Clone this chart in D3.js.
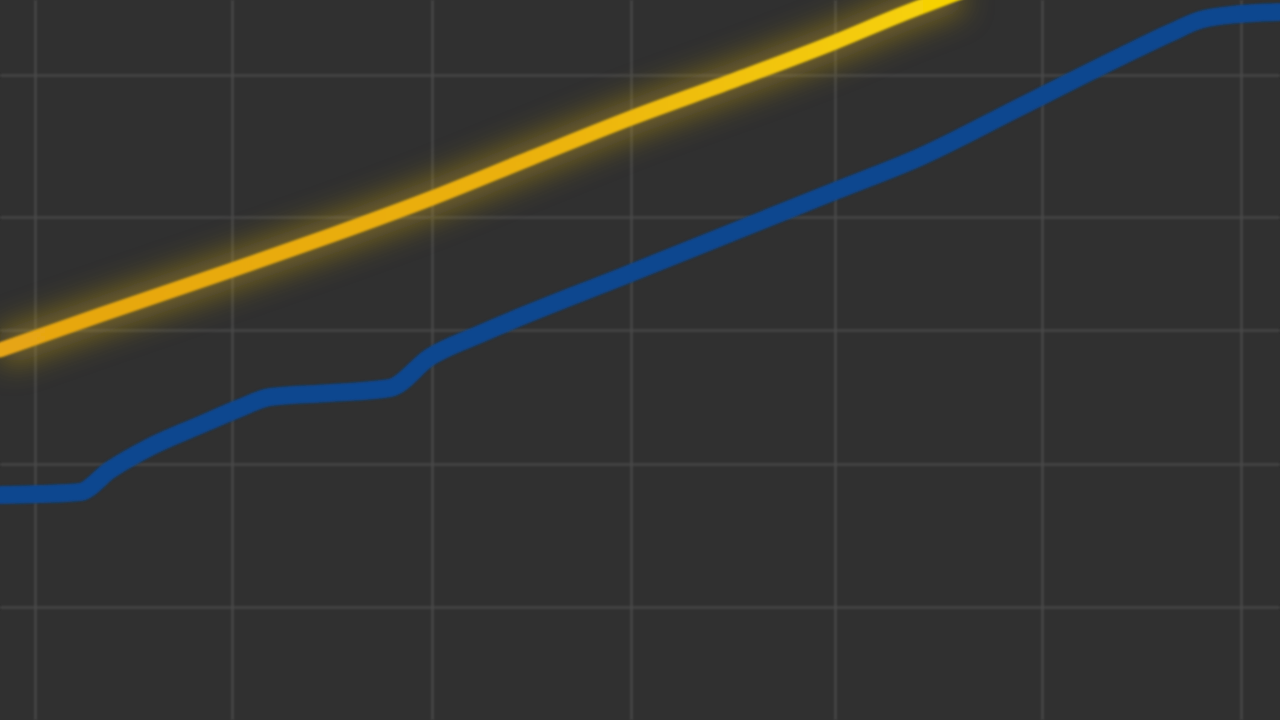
<!DOCTYPE html>
<html>
<head>
<meta charset="utf-8">
<script src="https://cdn.jsdelivr.net/npm/d3@7"></script>
<style>
  html, body { margin: 0; padding: 0; background: #303030; overflow: hidden; }
  svg { display: block; }
</style>
</head>
<body>
<svg width="1280" height="720"></svg>
<script>
// grid positions (chart units)
const xGrid = [1.75, 11.6, 21.6, 31.55, 41.75, 52.1, 62.05];
const yGrid = [64.5, 50.3, 39.0, 25.6, 11.3];

// yellow series
const goldX = [0, 5, 11.6, 16.6, 21.6, 26.55, 31.55, 36.75, 41.75, 45, 48];
const goldY = [37.0, 40.5, 45.0, 48.5, 52.2, 56.2, 60.2, 64.0, 67.8, 70.5, 72.8];

// blue series
const blueX = [0, 2, 4, 5.5, 7.5, 10, 12, 13.5, 16.5, 19.5, 21.5, 24, 31.55, 41.75, 46, 51, 56, 58.5, 60, 62, 64];
const blueY = [22.5, 22.6, 22.8, 25.0, 27.3, 29.5, 31.2, 32.3, 32.7, 33.2, 36.3, 38.6, 44.7, 52.9, 56.3, 61.3, 66.3, 68.7, 70.0, 70.6, 70.8];

const width = 1280, height = 720;
const svg = d3.select("svg");

const x = d3.scaleLinear().domain([0, 64]).range([0, width]);
const y = d3.scaleLinear().domain([0, 72]).range([height, 0]);

svg.append("rect")
  .attr("width", width)
  .attr("height", height)
  .attr("fill", "#303030");

let defs = svg.append("defs");

let grad = defs.append("linearGradient")
  .attr("id", "goldGrad")
  .attr("gradientUnits", "userSpaceOnUse")
  .attr("x1", 0).attr("x2", x(48))
  .attr("y1", 0).attr("y2", 0);
grad.append("stop").attr("offset", "0%").attr("stop-color", "#e6a512");
grad.append("stop").attr("offset", "55%").attr("stop-color", "#ebb10f");
grad.append("stop").attr("offset", "100%").attr("stop-color", "#f7d406");

let glow = defs.append("filter")
  .attr("id", "glow")
  .attr("x", "-20%").attr("y", "-40%")
  .attr("width", "140%").attr("height", "180%");
glow.append("feGaussianBlur").attr("stdDeviation", 15);

let soft = defs.append("filter").attr("id", "soft");
soft.append("feGaussianBlur").attr("stdDeviation", 0.8);

// gridlines via axes
const xAxis = d3.axisBottom(x).tickValues(xGrid).tickSize(-height).tickFormat("");
const yAxis = d3.axisLeft(y).tickValues(yGrid).tickSize(-width).tickFormat("");

svg.append("g")
  .attr("transform", `translate(0,${height})`)
  .attr("filter", "url(#soft)")
  .call(xAxis)
  .call(g => g.select(".domain").remove())
  .selectAll("line")
  .attr("stroke", "#4b4b4b")
  .attr("stroke-width", 2.2);

svg.append("g")
  .attr("filter", "url(#soft)")
  .call(yAxis)
  .call(g => g.select(".domain").remove())
  .selectAll("line")
  .attr("stroke", "#4b4b4b")
  .attr("stroke-width", 2.2);

const line = d3.line()
  .x(d => x(d[0]))
  .y(d => y(d[1]))
  .curve(d3.curveMonotoneX);

const gold = d3.zip(goldX, goldY);
const blue = d3.zip(blueX, blueY);

// blue line
svg.append("path")
  .datum(blue)
  .attr("d", line)
  .attr("fill", "none")
  .attr("stroke", "#0a468f")
  .attr("stroke-width", 18)
  .attr("stroke-linecap", "round")
  .attr("stroke-linejoin", "round")
  .attr("filter", "url(#soft)");

// gold glow + line
svg.append("path")
  .datum(gold)
  .attr("d", line)
  .attr("fill", "none")
  .attr("stroke", "#d0a812")
  .attr("stroke-opacity", 0.45)
  .attr("stroke-width", 36)
  .attr("filter", "url(#glow)");

svg.append("path")
  .datum(gold)
  .attr("d", line)
  .attr("fill", "none")
  .attr("stroke", "url(#goldGrad)")
  .attr("stroke-width", 15)
  .attr("stroke-linecap", "round")
  .attr("filter", "url(#soft)");
</script>
</body>
</html>
